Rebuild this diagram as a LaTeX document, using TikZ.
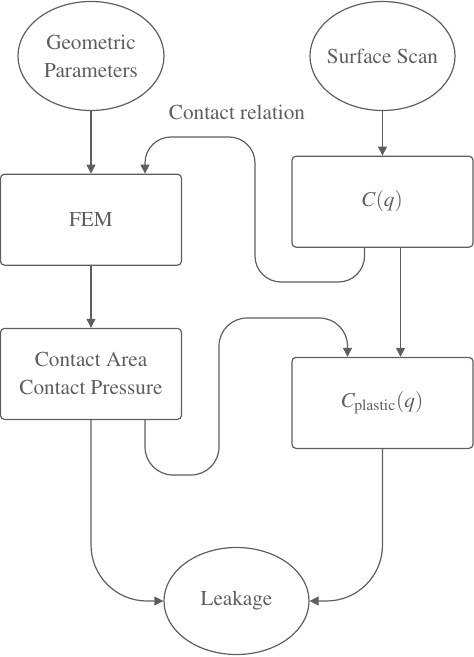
\documentclass[tikz,border=0pt]{standalone}
\usepackage[T1]{fontenc}
\usepackage{mathptmx}
\usepackage{tikz}
\usetikzlibrary{positioning, calc, arrows.meta, shapes}
\definecolor{flowgray}{HTML}{5E5E5E}
\tikzset{>={Triangle[length=4.5pt,width=4.5pt]}}

\begin{document}
\begin{tikzpicture}
    [x=0.5pt, y=0.5pt, line width=0.6pt, draw=flowgray, text=flowgray,
      font=\fontsize{10.6}{14}\selectfont,
      box/.style={draw, rectangle, rounded corners=2pt, align=center,
        minimum width=90.5pt, minimum height=45.5pt, inner sep=0pt},
      oval/.style={draw, ellipse, align=center, inner ysep=0pt, inner xsep=-3pt,
        minimum width=73pt, minimum height=54.5pt}]

    \useasboundingbox (0,0) rectangle (474,-657);

    \node[oval] (GP) at (91,-56) {Geometric \\ Parameters};
    \node[oval, minimum width=72.5pt] (SS) at (382.5,-56) {Surface Scan};
    \node[box, below=31.25pt of GP] (FEM) {FEM};
    \node[box, below=31pt of FEM] (CA) {Contact Area \\ Contact Pressure};
    \node[box, below=22.25pt of SS] (Cq) {$C(q)$};
    \node[box, below=54.5pt of Cq] (Cp) {$C_{\mathrm{plastic}}(q)$};
    \node[oval, minimum width=72.5pt, minimum height=53.5pt] (Leak) at (236.5,-601) {Leakage};
    \node (rel) at (237,-112) {Contact relation};

    \draw[->] (GP) -- (FEM);
    \draw[->] (SS) -- (Cq);
    \draw[->] (FEM) -- (CA);
    \draw[->] ([xshift=9pt]Cq.south) -- ([xshift=9pt]Cp.north);
    \draw[->, rounded corners=13pt] ([xshift=-9pt]Cq.south) |- (255,-282)
      -- (255,-137) -| ([xshift=27pt]FEM.north);
    \draw[->, rounded corners=14pt] ([xshift=27pt]CA.south) |- (219,-475)
      -- (219,-318) -| ([xshift=-17.5pt]Cp.north);
    \draw[->, rounded corners=28pt] (CA.south) |- (Leak.west);
    \draw[->, rounded corners=28pt] (Cp.south) |- (Leak.east);
  \end{tikzpicture}
\end{document}
